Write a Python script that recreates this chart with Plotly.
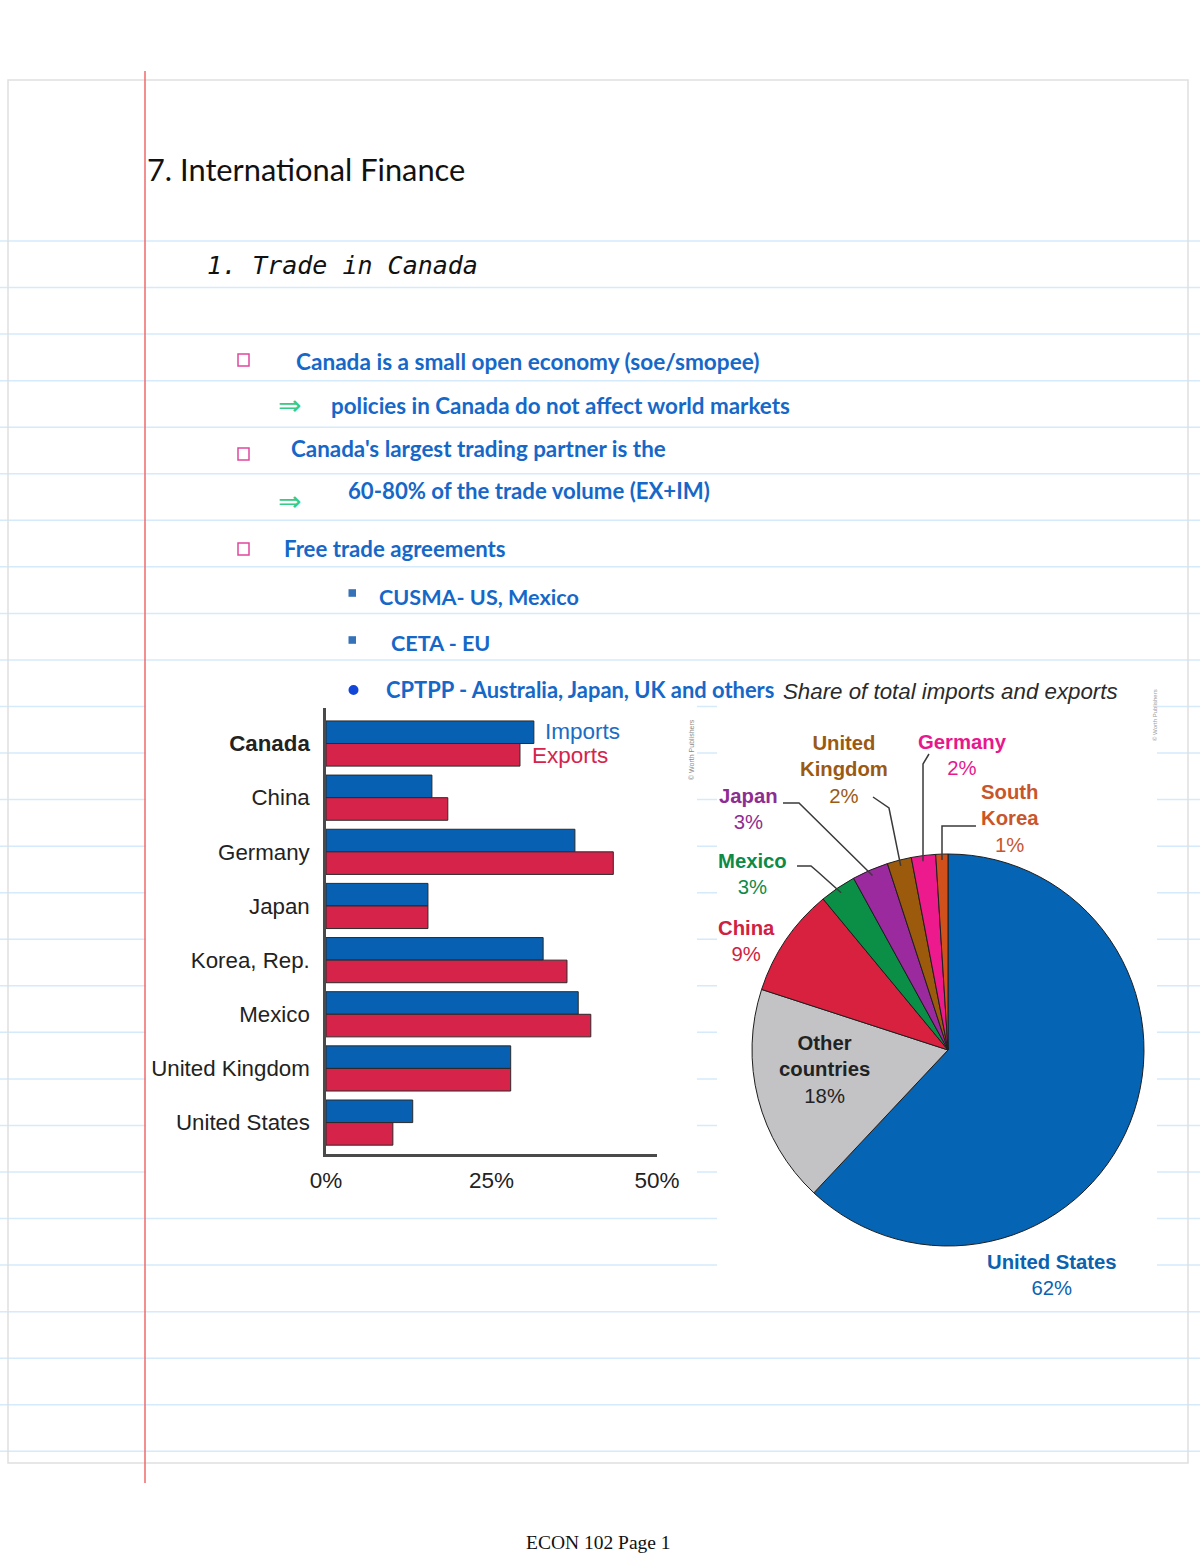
import math
import plotly.graph_objects as go

W, H = 1200, 1553

# ---------------- data ----------------
countries = ["Canada", "China", "Germany", "Japan", "Korea, Rep.", "Mexico", "United Kingdom", "United States"]
imports_pct = [31.4, 16.0, 37.6, 15.4, 32.8, 38.1, 27.9, 13.1]
exports_pct = [29.3, 18.4, 43.4, 15.4, 36.4, 40.0, 27.9, 10.1]
x_ticks = [0, 25, 50]
x_tick_labels = ["0%", "25%", "50%"]

pie_labels = ["United States", "Other countries", "China", "Mexico", "Japan", "United Kingdom", "Germany", "South Korea"]
pie_values = [62, 18, 9, 3, 3, 2, 2, 1]
pie_colors = ["#0564b4", "#c3c3c6", "#d8203f", "#0b8f47", "#9a2a9e", "#9b5a0c", "#ec1a8c", "#d2501c"]

bullet_lines = [
    ("Canada is a small open economy (soe/smopee)", 294, 361, 22.6),
    ("policies in Canada do not affect world markets", 329, 405, 22.4),
    ("Canada's largest trading partner is the", 289, 448, 22.4),
    ("60-80% of the trade volume (EX+IM)", 346, 491, 22.2),
    ("Free trade agreements", 282, 548, 22.2),
    ("CUSMA- US, Mexico", 377, 597, 21.6),
    ("CETA - EU", 389, 643, 21.6),
    ("CPTPP - Australia, Japan, UK and others", 384, 690, 21.9),
]


def px(x):
    return x / W


def py(y):
    return 1 - y / H


BLUE_TXT = "#1668c8"
fig = go.Figure()

# ---------------- bar chart ----------------
fig.add_trace(go.Bar(
    y=countries, x=imports_pct, orientation="h", name="Imports",
    marker=dict(color="#0760b2", line=dict(color="#2a2a2a", width=1)),
    xaxis="x", yaxis="y", hoverinfo="skip", showlegend=False,
))
fig.add_trace(go.Bar(
    y=countries, x=exports_pct, orientation="h", name="Exports",
    marker=dict(color="#d6234a", line=dict(color="#2a2a2a", width=1)),
    xaxis="x", yaxis="y", hoverinfo="skip", showlegend=False,
))

# ---------------- pie chart ----------------
cx, cy, R = 948, 1050, 196
fig.add_trace(go.Pie(
    labels=pie_labels, values=pie_values, sort=False, direction="clockwise", rotation=0,
    marker=dict(colors=pie_colors, line=dict(color="#1e1e1e", width=1)),
    textinfo="none", hoverinfo="skip", showlegend=False,
    domain=dict(x=[px(cx - R), px(cx + R)], y=[py(cy + R), py(cy - R)]),
))

shapes = []
# ruled notebook lines
for k in range(27):
    yy = 241 + 46.55 * k
    shapes.append(dict(type="line", xref="paper", yref="paper", x0=0, x1=1, y0=py(yy), y1=py(yy),
                       line=dict(color="#d5eafa", width=1.5), layer="below"))
# page frame
shapes.append(dict(type="rect", xref="paper", yref="paper", x0=px(8), x1=px(1188), y0=py(1463), y1=py(80),
                   line=dict(color="#e0e0e0", width=1.5), layer="below"))
# white image areas
shapes.append(dict(type="rect", xref="paper", yref="paper", x0=px(146), x1=px(697), y0=py(1205), y1=py(700),
                   line=dict(width=0), fillcolor="white", layer="below"))
shapes.append(dict(type="rect", xref="paper", yref="paper", x0=px(717), x1=px(1157), y0=py(1302), y1=py(668),
                   line=dict(width=0), fillcolor="white", layer="below"))
# red margin line
shapes.append(dict(type="line", xref="paper", yref="paper", x0=px(145), x1=px(145), y0=py(1483), y1=py(71),
                   line=dict(color="#f06a6a", width=1.5), layer="above"))
# pink hollow squares
for yc in [360, 454, 549]:
    shapes.append(dict(type="rect", xref="paper", yref="paper", x0=px(238), x1=px(249), y0=py(yc + 6), y1=py(yc - 6),
                       line=dict(color="#e0479e", width=1.5), fillcolor="rgba(0,0,0,0)"))
# small blue square bullets
for yc in [593, 640]:
    shapes.append(dict(type="rect", xref="paper", yref="paper", x0=px(348.5), x1=px(356), y0=py(yc + 3.8), y1=py(yc - 3.8),
                       line=dict(width=0), fillcolor="#3572b8"))
# round bullet
shapes.append(dict(type="circle", xref="paper", yref="paper", x0=px(348.5), x1=px(358.5), y0=py(695), y1=py(685),
                   line=dict(width=0), fillcolor="#1246d8"))

# pie leader lines (end point on the slice computed from pie data)
cum = []
acc = 0
total = sum(pie_values)
for v in pie_values:
    cum.append((acc + v / 2) / total)
    acc += v


def slice_point(label, frac=0.97):
    i = pie_labels.index(label)
    ang = 2 * math.pi * cum[i]
    return cx + frac * R * math.sin(ang), cy - frac * R * math.cos(ang)


leaders = {
    "Japan": [(783, 803), (799, 803)],
    "Mexico": [(797, 866), (811, 866), (818, 872)],
    "United Kingdom": [(873, 797), (889, 808)],
    "Germany": [(929, 754), (923, 764)],
    "South Korea": [(976, 826), (942, 826)],
}
for lab, pts in leaders.items():
    ex, ey = slice_point(lab)
    if lab in ("South Korea", "Germany"):
        ex = pts[-1][0]
    allp = pts + [(ex, ey)]
    path = "M " + " L ".join(f"{px(a):.5f},{py(b):.5f}" for a, b in allp)
    shapes.append(dict(type="path", xref="paper", yref="paper", path=path,
                       line=dict(color="#3a3a3a", width=1.5)))

annotations = []


def ann(text, x, y, size, color, family="Liberation Sans, Arial, sans-serif", xanchor="left", **kw):
    d = dict(text=text, x=px(x), y=py(y), xref="paper", yref="paper", showarrow=False,
             xanchor=xanchor, yanchor="middle", font=dict(size=size, color=color, family=family))
    d.update(kw)
    annotations.append(d)


# titles
ann("7. International Finance", 145, 169, 30.8, "#111111", family="Lato, Open Sans, sans-serif")
ann("<i>1. Trade in Canada</i>", 205, 265, 25, "#111111", family="DejaVu Sans Mono, monospace")

for text, x, y, s in bullet_lines:
    ann(f"<b>{text}</b>", x, y, s, BLUE_TXT, family="Lato, Open Sans, sans-serif")

for y in [406, 501]:
    ann("⇒", 276, y, 28, "#33cc88", family="DejaVu Sans, sans-serif")

ann("<i>Share of total imports and exports</i>", 781, 692, 22.3, "#2a2a2a")

# copyright tiny vertical texts
ann("© Worth Publishers", 692, 750, 7, "#8a8a8a", xanchor="center", textangle=-90)
ann("© Worth Publishers", 1155, 715, 6, "#9a9a9a", xanchor="center", textangle=-90)

# bar chart legend labels tied to the Canada bars
annotations.append(dict(text="Imports", x=imports_pct[0], y=0, xref="x", yref="y", showarrow=False,
                        xanchor="left", yanchor="middle", xshift=9, yshift=12,
                        font=dict(size=22.5, color="#1b6cc4", family="Liberation Sans, Arial, sans-serif")))
annotations.append(dict(text="Exports", x=exports_pct[0], y=0, xref="x", yref="y", showarrow=False,
                        xanchor="left", yanchor="middle", xshift=10, yshift=-12,
                        font=dict(size=22.5, color="#d6234a", family="Liberation Sans, Arial, sans-serif")))

# pie labels
pie_text = [
    ("<b>United</b><br><b>Kingdom</b><br>2%", 844, 769, "#9b5a14"),
    ("<b>Germany</b><br>2%", 962, 755, "#e8178c"),
    ("<b>South</b><br><b>Korea</b><br>1%", 1010, 818, "#c9562a"),
    ("<b>Japan</b><br>3%", 748, 809, "#8e2c92"),
    ("<b>Mexico</b><br>3%", 753, 874, "#0e8a46"),
    ("<b>China</b><br>9%", 746, 941, "#d0213f"),
    ("<b>Other</b><br><b>countries</b><br>18%", 824, 1069, "#222222"),
    ("<b>United States</b><br>62%", 1052, 1275, "#0a62b0"),
]
for t, x, y, c in pie_text:
    ann(t, x, y, 20.3, c, xanchor="center")

# footer
ann("ECON 102 Page 1", 598, 1542, 19.5, "#111111", family="Liberation Serif, Times New Roman, serif", xanchor="center")

# ---------------- layout ----------------
y_ticktext = ["<b>Canada</b>"] + countries[1:]
fig.update_layout(
    width=W, height=H, autosize=False, margin=dict(l=0, r=0, t=0, b=0, autoexpand=False),
    paper_bgcolor="white", plot_bgcolor="rgba(0,0,0,0)",
    barmode="group", bargap=0.166, bargroupgap=0,
    showlegend=False,
    xaxis=dict(domain=[px(326), px(657)], range=[0, 50], tickvals=x_ticks, ticktext=x_tick_labels,
               showgrid=False, zeroline=False, showline=True, linecolor="#4a4a4a", linewidth=2.5,
               ticks="", ticklabelstandoff=4, anchor="y",
               tickfont=dict(size=22.5, color="#222222", family="Liberation Sans, Arial, sans-serif")),
    yaxis=dict(domain=[py(1154), py(708)], type="category", categoryorder="array", categoryarray=countries,
               range=[7.58, -0.656], tickvals=countries, ticktext=y_ticktext,
               showgrid=False, zeroline=False, showline=True, linecolor="#4a4a4a", linewidth=2.5,
               ticks="", ticklabelstandoff=9, anchor="x",
               tickfont=dict(size=22.3, color="#222222", family="Liberation Sans, Arial, sans-serif")),
    shapes=shapes,
    annotations=annotations,
)

fig.write_html(
    "out.html",
    config={"responsive": False, "displayModeBar": False},
    post_script="document.body.style.margin='0';document.body.style.overflow='hidden';",
)
